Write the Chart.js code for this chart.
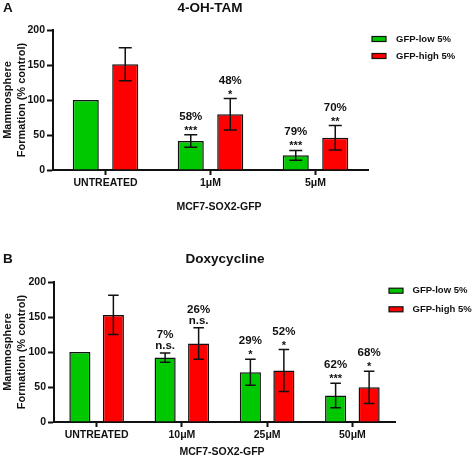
<!DOCTYPE html>
<html>
<head>
<meta charset="utf-8">
<script src="https://cdn.jsdelivr.net/npm/chart.js@4.4.1/dist/chart.umd.min.js"></script>
<style>
  body { margin: 0; background: #fff; }
  #wrap { position: relative; width: 474px; height: 460px; }
  canvas { position: absolute; left: 0; }
</style>
</head>
<body>
<div id="wrap">
  <canvas id="chartA" width="474" height="230" style="top:0;width:474px;height:230px"></canvas>
  <canvas id="chartB" width="474" height="230" style="top:230px;width:474px;height:230px"></canvas>
</div>
<script>
// panel A - 4-OH-TAM
const tamLabels = ['UNTREATED', '1μM', '5μM'];
const tamLow = [100, 41.5, 21];
const tamHigh = [151, 79.5, 46];
const tamLowErr = [0, 9, 7];
const tamHighErr = [23.5, 22.5, 17.5];
const tamLowPct = ['', '58%', '79%'];
const tamHighPct = ['', '48%', '70%'];
const tamLowSig = ['', '***', '***'];
const tamHighSig = ['', '*', '**'];

// panel B - Doxycycline
const doxLabels = ['UNTREATED', '10μM', '25μM', '50μM'];
const doxLow = [100, 92, 71, 38];
const doxHigh = [153, 112, 73.5, 49.5];
const doxLowErr = [0, 6.5, 18.5, 17.5];
const doxHighErr = [28, 22.5, 30, 23];
const doxLowPct = ['', '7%', '29%', '62%'];
const doxHighPct = ['', '26%', '52%', '68%'];
const doxLowSig = ['', 'n.s.', '*', '***'];
const doxHighSig = ['', 'n.s.', '*', '*'];

const yTicks = [0, 50, 100, 150, 200];
const seriesNames = ['GFP-low 5%', 'GFP-high 5%'];

const GREEN = '#00c800';
const RED = '#ff0000';
const FONT = '"Liberation Sans", Arial, sans-serif';

function bold(px) { return 'bold ' + px + 'px ' + FONT; }

// error bars, significance labels, titles, legend
const extras = {
  id: 'extras',
  afterDatasetsDraw(chart, args, o) {
    const ctx = chart.ctx;
    const y = chart.scales.y;
    ctx.save();
    chart.data.datasets.forEach((ds, di) => {
      const meta = chart.getDatasetMeta(di);
      meta.data.forEach((bar, i) => {
        const v = ds.data[i];
        const e = ds.err[i];
        const cap = bar.width / 4;
        const top = y.getPixelForValue(v + e);
        if (e > 0) {
          const bot = y.getPixelForValue(v - e);
          ctx.strokeStyle = '#111';
          ctx.lineWidth = 1.5;
          ctx.beginPath();
          ctx.moveTo(bar.x, top); ctx.lineTo(bar.x, bot);
          ctx.moveTo(bar.x - cap, top); ctx.lineTo(bar.x + cap, top);
          ctx.moveTo(bar.x - cap, bot); ctx.lineTo(bar.x + cap, bot);
          ctx.stroke();
        }
        ctx.fillStyle = '#111';
        ctx.textAlign = 'center';
        ctx.textBaseline = 'alphabetic';
        if (ds.sig[i]) {
          const star = ds.sig[i][0] === '*';
          ctx.font = bold(star ? 11 : 11.5);
          ctx.fillText(ds.sig[i], bar.x, top - (star ? 1 : 4));
        }
        if (ds.pct[i]) {
          ctx.font = bold(11.5);
          ctx.fillText(ds.pct[i], bar.x, top - 15);
        }
      });
    });
    ctx.restore();
  },
  afterDraw(chart, args, o) {
    const ctx = chart.ctx;
    const area = chart.chartArea;
    const cy = (area.top + area.bottom) / 2;
    ctx.save();
    ctx.fillStyle = '#111';
    ctx.textBaseline = 'alphabetic';
    ctx.font = bold(13.5);
    ctx.textAlign = 'left';
    ctx.fillText(o.letter, 3, o.titleY);
    ctx.textAlign = 'center';
    ctx.fillText(o.title, o.titleX, o.titleY);
    ctx.font = bold(10.5);
    ctx.fillText('MCF7-SOX2-GFP', o.xTitleX, o.xTitleY);
    ctx.font = bold(11);
    [['Mammosphere', 11], ['Formation (% control)', 25]].forEach(([t, x]) => {
      ctx.save();
      ctx.translate(x, cy);
      ctx.rotate(-Math.PI / 2);
      ctx.fillText(t, 0, 0);
      ctx.restore();
    });
    // legend
    ctx.font = bold(9.5);
    ctx.textAlign = 'left';
    ctx.textBaseline = 'middle';
    chart.data.datasets.forEach((ds, di) => {
      const ly = o.legendY + di * o.legendGap;
      ctx.fillStyle = ds.backgroundColor;
      ctx.fillRect(o.legendX, ly - 2.5, 14, 5);
      ctx.strokeStyle = '#111';
      ctx.lineWidth = 1.2;
      ctx.strokeRect(o.legendX, ly - 2.5, 14, 5);
      ctx.fillStyle = '#111';
      ctx.fillText(ds.label, o.legendX + o.legendText, ly);
    });
    ctx.restore();
  }
};

function makeChart(id, labels, low, high, lowErr, highErr, lowPct, highPct, lowSig, highSig, lay) {
  return new Chart(document.getElementById(id), {
    type: 'bar',
    data: {
      labels: labels,
      datasets: [
        { label: seriesNames[0], data: low, err: lowErr, pct: lowPct, sig: lowSig,
          backgroundColor: GREEN, borderColor: '#111', borderWidth: 1.5 },
        { label: seriesNames[1], data: high, err: highErr, pct: highPct, sig: highSig,
          backgroundColor: RED, borderColor: '#111', borderWidth: 1.5 }
      ]
    },
    options: {
      responsive: false,
      animation: false,
      devicePixelRatio: 1,
      categoryPercentage: lay.cp,
      barPercentage: lay.bp,
      layout: { padding: { left: 0, right: lay.right, top: lay.top, bottom: 0 } },
      plugins: {
        legend: { display: false },
        tooltip: { enabled: false },
        extras: lay.extras
      },
      scales: {
        x: {
          afterFit(s) { s.height = lay.xHeight; },
          grid: { offset: false, drawOnChartArea: false, tickLength: 5, tickColor: '#111', tickWidth: 2 },
          border: { color: '#111', width: 2 },
          ticks: { color: '#111', font: { family: FONT, size: 10.5, weight: 'bold' }, padding: 2, maxRotation: 0 }
        },
        y: {
          min: 0, max: 200,
          afterFit(s) { s.width = lay.yWidth; },
          afterBuildTicks(s) { s.ticks = yTicks.map(v => ({ value: v })); },
          grid: { drawOnChartArea: false, tickLength: 6, tickColor: '#111', tickWidth: 2 },
          border: { color: '#111', width: 2 },
          ticks: { color: '#111', font: { family: FONT, size: 10.5, weight: 'bold' }, padding: 2 }
        }
      }
    },
    plugins: [extras]
  });
}

makeChart('chartA', tamLabels, tamLow, tamHigh, tamLowErr, tamHighErr, tamLowPct, tamHighPct, tamLowSig, tamHighSig, {
  cp: 0.752, bp: 0.66, right: 106, top: 30, xHeight: 60, yWidth: 53,
  extras: { letter: 'A', title: '4-OH-TAM', titleX: 210, titleY: 12, xTitleX: 219, xTitleY: 210,
            legendX: 372, legendY: 39, legendGap: 17, legendText: 24 }
});

makeChart('chartB', doxLabels, doxLow, doxHigh, doxLowErr, doxHighErr, doxLowPct, doxHighPct, doxLowSig, doxHighSig, {
  cp: 0.786, bp: 0.63, right: 79, top: 52, xHeight: 38, yWidth: 54,
  extras: { letter: 'B', title: 'Doxycycline', titleX: 225, titleY: 33, xTitleX: 222, xTitleY: 225,
            legendX: 389, legendY: 60.7, legendGap: 18.6, legendText: 23.5 }
});
</script>
</body>
</html>
